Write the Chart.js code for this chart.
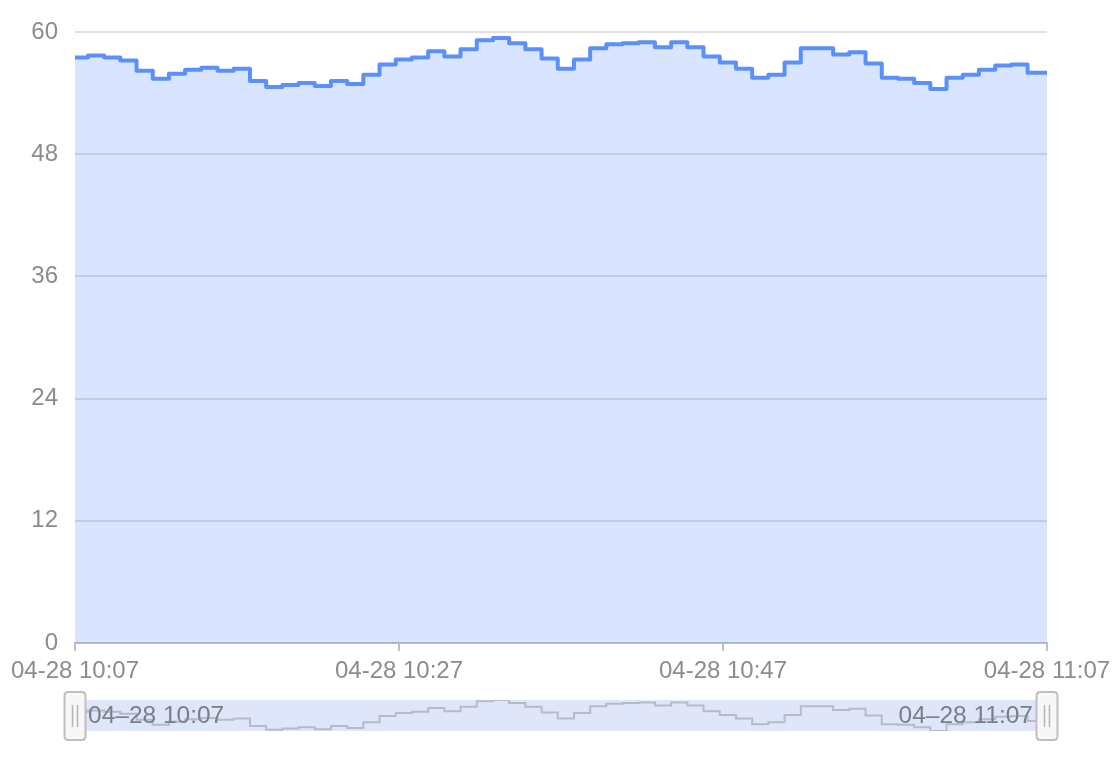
<!DOCTYPE html>
<html>
<head>
<meta charset="utf-8">
<script src="https://cdn.jsdelivr.net/npm/chart.js@4.4.1/dist/chart.umd.min.js"></script>
<style>
  html, body { margin: 0; padding: 0; background: #ffffff; }
  #wrap { position: relative; width: 1118px; height: 772px; }
  #mainBox { position: absolute; left: 0; top: 0; width: 1118px; height: 690px; }
  #sliderBox { position: absolute; left: 0; top: 690px; width: 1118px; height: 62px; }
</style>
</head>
<body>
<div id="wrap">
  <div id="mainBox"><canvas id="main"></canvas></div>
  <div id="sliderBox"><canvas id="slider"></canvas></div>
</div>
<script>
// ---- data ----
const startTime = "10:07:00";
const sampleTimes = [
  "10:07:00","10:07:48","10:08:48","10:09:48","10:10:48","10:11:48","10:12:48","10:13:48",
  "10:14:48","10:15:48","10:16:48","10:17:48","10:18:48","10:19:48","10:20:48","10:21:48",
  "10:22:48","10:23:48","10:24:48","10:25:48","10:26:48","10:27:48","10:28:48","10:29:48",
  "10:30:48","10:31:48","10:32:48","10:33:48","10:34:48","10:35:48","10:36:48","10:37:48",
  "10:38:48","10:39:48","10:40:48","10:41:48","10:42:48","10:43:48","10:44:48","10:45:48",
  "10:46:48","10:47:48","10:48:48","10:49:48","10:50:48","10:51:48","10:52:48","10:53:48",
  "10:54:48","10:55:48","10:56:48","10:57:48","10:58:48","10:59:48","11:00:48","11:01:48",
  "11:02:48","11:03:48","11:04:48","11:05:48","11:06:48","11:07:00"
];
const sampleValues = [
  57.5, 57.7, 57.5, 57.2, 56.2, 55.4, 55.9, 56.3,
  56.5, 56.2, 56.4, 55.2, 54.6, 54.8, 55.0, 54.7,
  55.2, 54.9, 55.8, 56.8, 57.3, 57.5, 58.1, 57.6,
  58.3, 59.2, 59.4, 58.9, 58.3, 57.4, 56.4, 57.3,
  58.4, 58.8, 58.9, 59.0, 58.5, 59.0, 58.5, 57.6,
  57.0, 56.4, 55.5, 55.8, 57.0, 58.4, 58.4, 57.8,
  58.0, 56.9, 55.5, 55.4, 55.0, 54.4, 55.5, 55.8,
  56.3, 56.7, 56.8, 56.0, 56.0, 56.0
];
const xTickLabels = ["04-28 10:07", "04-28 10:27", "04-28 10:47", "04-28 11:07"];
const sliderLabels = ["04–28 10:07", "04–28 11:07"];
const yTicks = { min: 0, max: 60, step: 12 };
const xRange = { min: 0, max: 60, step: 20 }; // minutes after startTime

// ---- helpers ----
function toMinutes(t) {
  const p = t.split(":").map(Number);
  return p[0] * 60 + p[1] + p[2] / 60;
}
const t0 = toMinutes(startTime);
const points = sampleTimes.map((t, i) => ({ x: toMinutes(t) - t0, y: sampleValues[i] }));
const vMin = Math.min(...sampleValues);
const vMax = Math.max(...sampleValues);

const FONT = "'Liberation Sans', Arial, Helvetica, sans-serif";
const LABEL_COLOR = "#8c8c8c";

// ---- main chart ----
new Chart(document.getElementById("main"), {
  type: "line",
  data: {
    datasets: [{
      data: points,
      stepped: true,
      fill: "origin",
      borderColor: "#5B8FF9",
      backgroundColor: "rgba(91,143,249,0.23)",
      borderWidth: 4,
      borderJoinStyle: "round",
      borderCapStyle: "round",
      pointRadius: 0
    }]
  },
  options: {
    responsive: true,
    maintainAspectRatio: false,
    animation: false,
    layout: { padding: { top: 32, right: 71, left: 0, bottom: 0 } },
    plugins: { legend: { display: false }, tooltip: { enabled: false } },
    scales: {
      x: {
        type: "linear",
        min: xRange.min,
        max: xRange.max,
        afterFit(s) { s.height = 47; },
        ticks: {
          stepSize: xRange.step,
          padding: 6,
          color: LABEL_COLOR,
          maxRotation: 0,
          autoSkip: false,
          font: { family: FONT, size: 24 },
          callback: (v, i) => xTickLabels[i]
        },
        grid: { drawOnChartArea: false, drawTicks: true, tickLength: 8, color: "#bfbfbf", lineWidth: 2 },
        border: { display: true, color: "#bfbfbf", width: 2 }
      },
      y: {
        min: yTicks.min,
        max: yTicks.max,
        afterFit(s) { s.width = 75; },
        ticks: {
          stepSize: yTicks.step,
          padding: 17,
          color: LABEL_COLOR,
          font: { family: FONT, size: 24 }
        },
        grid: { drawTicks: false, color: "#e0e0e0", lineWidth: 2 },
        border: { display: false }
      }
    }
  }
});

// ---- slider (data zoom look-alike) ----
function roundRect(ctx, x, y, w, h, r) {
  ctx.beginPath();
  ctx.moveTo(x + r, y);
  ctx.lineTo(x + w - r, y);
  ctx.quadraticCurveTo(x + w, y, x + w, y + r);
  ctx.lineTo(x + w, y + h - r);
  ctx.quadraticCurveTo(x + w, y + h, x + w - r, y + h);
  ctx.lineTo(x + r, y + h);
  ctx.quadraticCurveTo(x, y + h, x, y + h - r);
  ctx.lineTo(x, y + r);
  ctx.quadraticCurveTo(x, y, x + r, y);
  ctx.closePath();
}

const sliderPlugin = {
  id: "sliderDeco",
  beforeDatasetsDraw(chart) {
    const { ctx, chartArea: a } = chart;
    ctx.save();
    ctx.fillStyle = "#dfe6f9";
    ctx.fillRect(a.left, a.top, a.right - a.left, a.bottom - a.top);
    ctx.restore();
  },
  afterDraw(chart) {
    const { ctx, chartArea: a } = chart;
    ctx.save();
    const midY = (a.top + a.bottom) / 2;
    // labels
    ctx.font = "24.5px " + FONT;
    ctx.fillStyle = "#7a7e86";
    ctx.textBaseline = "middle";
    ctx.textAlign = "left";
    ctx.fillText(sliderLabels[0], a.left + 13, midY + 1);
    ctx.textAlign = "right";
    ctx.fillText(sliderLabels[1], a.right - 14, midY + 1);
    // handles
    [a.left, a.right].forEach(cx => {
      const w = 21, h = 48;
      const x = cx - w / 2, y = a.top - 8;
      roundRect(ctx, x, y, w, h, 4);
      ctx.fillStyle = "#f7f7f7";
      ctx.fill();
      ctx.lineWidth = 2;
      ctx.strokeStyle = "#bfbfbf";
      ctx.stroke();
      ctx.beginPath();
      ctx.moveTo(cx - 2.5, y + 13); ctx.lineTo(cx - 2.5, y + h - 13);
      ctx.moveTo(cx + 2.5, y + 13); ctx.lineTo(cx + 2.5, y + h - 13);
      ctx.lineWidth = 1.5;
      ctx.strokeStyle = "#b5b5b5";
      ctx.stroke();
    });
    ctx.restore();
  }
};

new Chart(document.getElementById("slider"), {
  type: "line",
  data: {
    datasets: [{
      data: points,
      stepped: true,
      fill: false,
      borderColor: "#b6bbc5",
      borderWidth: 2,
      pointRadius: 0
    }]
  },
  options: {
    responsive: true,
    maintainAspectRatio: false,
    animation: false,
    layout: { padding: { top: 10, bottom: 21, left: 75, right: 71 } },
    plugins: { legend: { display: false }, tooltip: { enabled: false } },
    scales: {
      x: { type: "linear", min: xRange.min, max: xRange.max, display: false },
      y: { min: vMin, max: vMax, display: false }
    }
  },
  plugins: [sliderPlugin]
});
</script>
</body>
</html>
